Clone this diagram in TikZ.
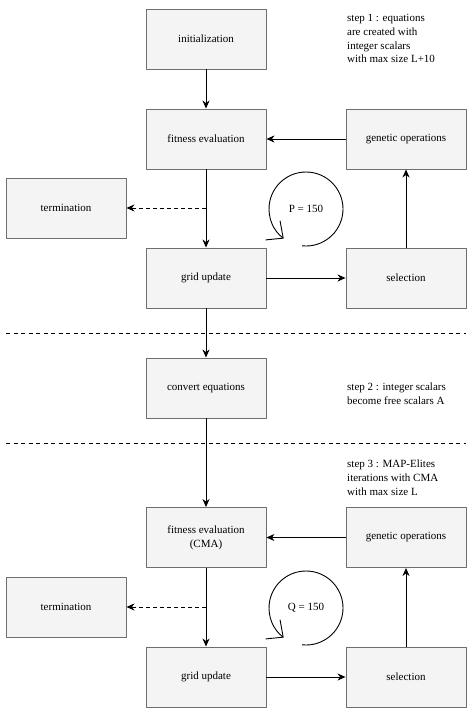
\documentclass[tikz,border=0pt]{standalone}
\usepackage{fontspec}
\setmainfont{Liberation Serif}
\usetikzlibrary{arrows.meta}
\definecolor{boxfill}{HTML}{F4F4F4}
\definecolor{boxline}{HTML}{6E6E6E}
\begin{document}
\begin{tikzpicture}[x=1pt,y=-1pt,>={Stealth[length=8pt,width=7pt,inset=2.5pt]}, font=\fontsize{11}{13.8}\selectfont, line join=round,
  box/.style={draw=boxline, fill=boxfill, line width=0.9pt, minimum width=120pt, minimum height=60pt, align=center, inner sep=2pt},
  link/.style={->, line width=0.9pt},
  note/.style={anchor=north west, align=left, inner sep=0pt},
  loopline/.style={line width=0.9pt, -{Straight Barb[length=13pt,width=24pt,line width=0.9pt]}},
  sep/.style={line width=0.9pt, dash pattern=on 4pt off 3.5pt}]
 \useasboundingbox (0,0) rectangle (474,713);
 % step 1
 \node[box] (init) at (206,39) {initialization};
 \node[box] (fit1) at (206,139) {fitness evaluation};
 \node[box] (gen1) at (406,139) {genetic operations};
 \node[box] (term1) at (66,208) {termination};
 \node[box] (grid1) at (206,278) {grid update};
 \node[box] (sel1) at (406,278) {selection};
 \node (loop1) at (306,209) {P = 150};
 \node[note] (step1) at (347,14) {step 1 : equations\\are created with\\integer scalars\\with max size L+10};
 \coordinate (split1) at (fit1.south |- term1.east);
 \draw[link] (init) -- (fit1);
 \draw[link] (fit1) -- (grid1);
 \draw[link] (grid1) -- (sel1);
 \draw[link] (sel1) -- (gen1);
 \draw[link] (gen1) -- (fit1);
 \draw[link, dash pattern=on 4pt off 3pt] (split1) -- (term1.east);
 \draw[loopline] (loop1.center) ++(96:37) arc[start angle=96, end angle=-233, radius=37];
 % step 2
 \draw[sep] (6,333) -- (466,333);
 \node[box] (conv) at (206,388) {convert equations};
 \node[note] (step2) at (347,383) {step 2 : integer scalars\\become free scalars A};
 \draw[sep] (6,443) -- (466,443);
 \draw[link] (grid1) -- (conv);
 % step 3
 \node[note] (step3) at (347,460) {step 3 : MAP-Elites\\iterations with CMA\\with max size L};
 \node[box] (fit2) at (206,537.5) {fitness evaluation\\(CMA)};
 \node[box] (gen2) at (406,537.5) {genetic operations};
 \node[box] (term2) at (66,607) {termination};
 \node[box] (grid2) at (206,677) {grid update};
 \node[box] (sel2) at (406,677) {selection};
 \node (loop2) at (306,608) {Q = 150};
 \coordinate (split2) at (fit2.south |- term2.east);
 \draw[link] (conv) -- (fit2);
 \draw[link] (fit2) -- (grid2);
 \draw[link] (grid2) -- (sel2);
 \draw[link] (sel2) -- (gen2);
 \draw[link] (gen2) -- (fit2);
 \draw[link, dash pattern=on 4pt off 3pt] (split2) -- (term2.east);
 \draw[loopline] (loop2.center) ++(96:37) arc[start angle=96, end angle=-233, radius=37];
\end{tikzpicture}
\end{document}
